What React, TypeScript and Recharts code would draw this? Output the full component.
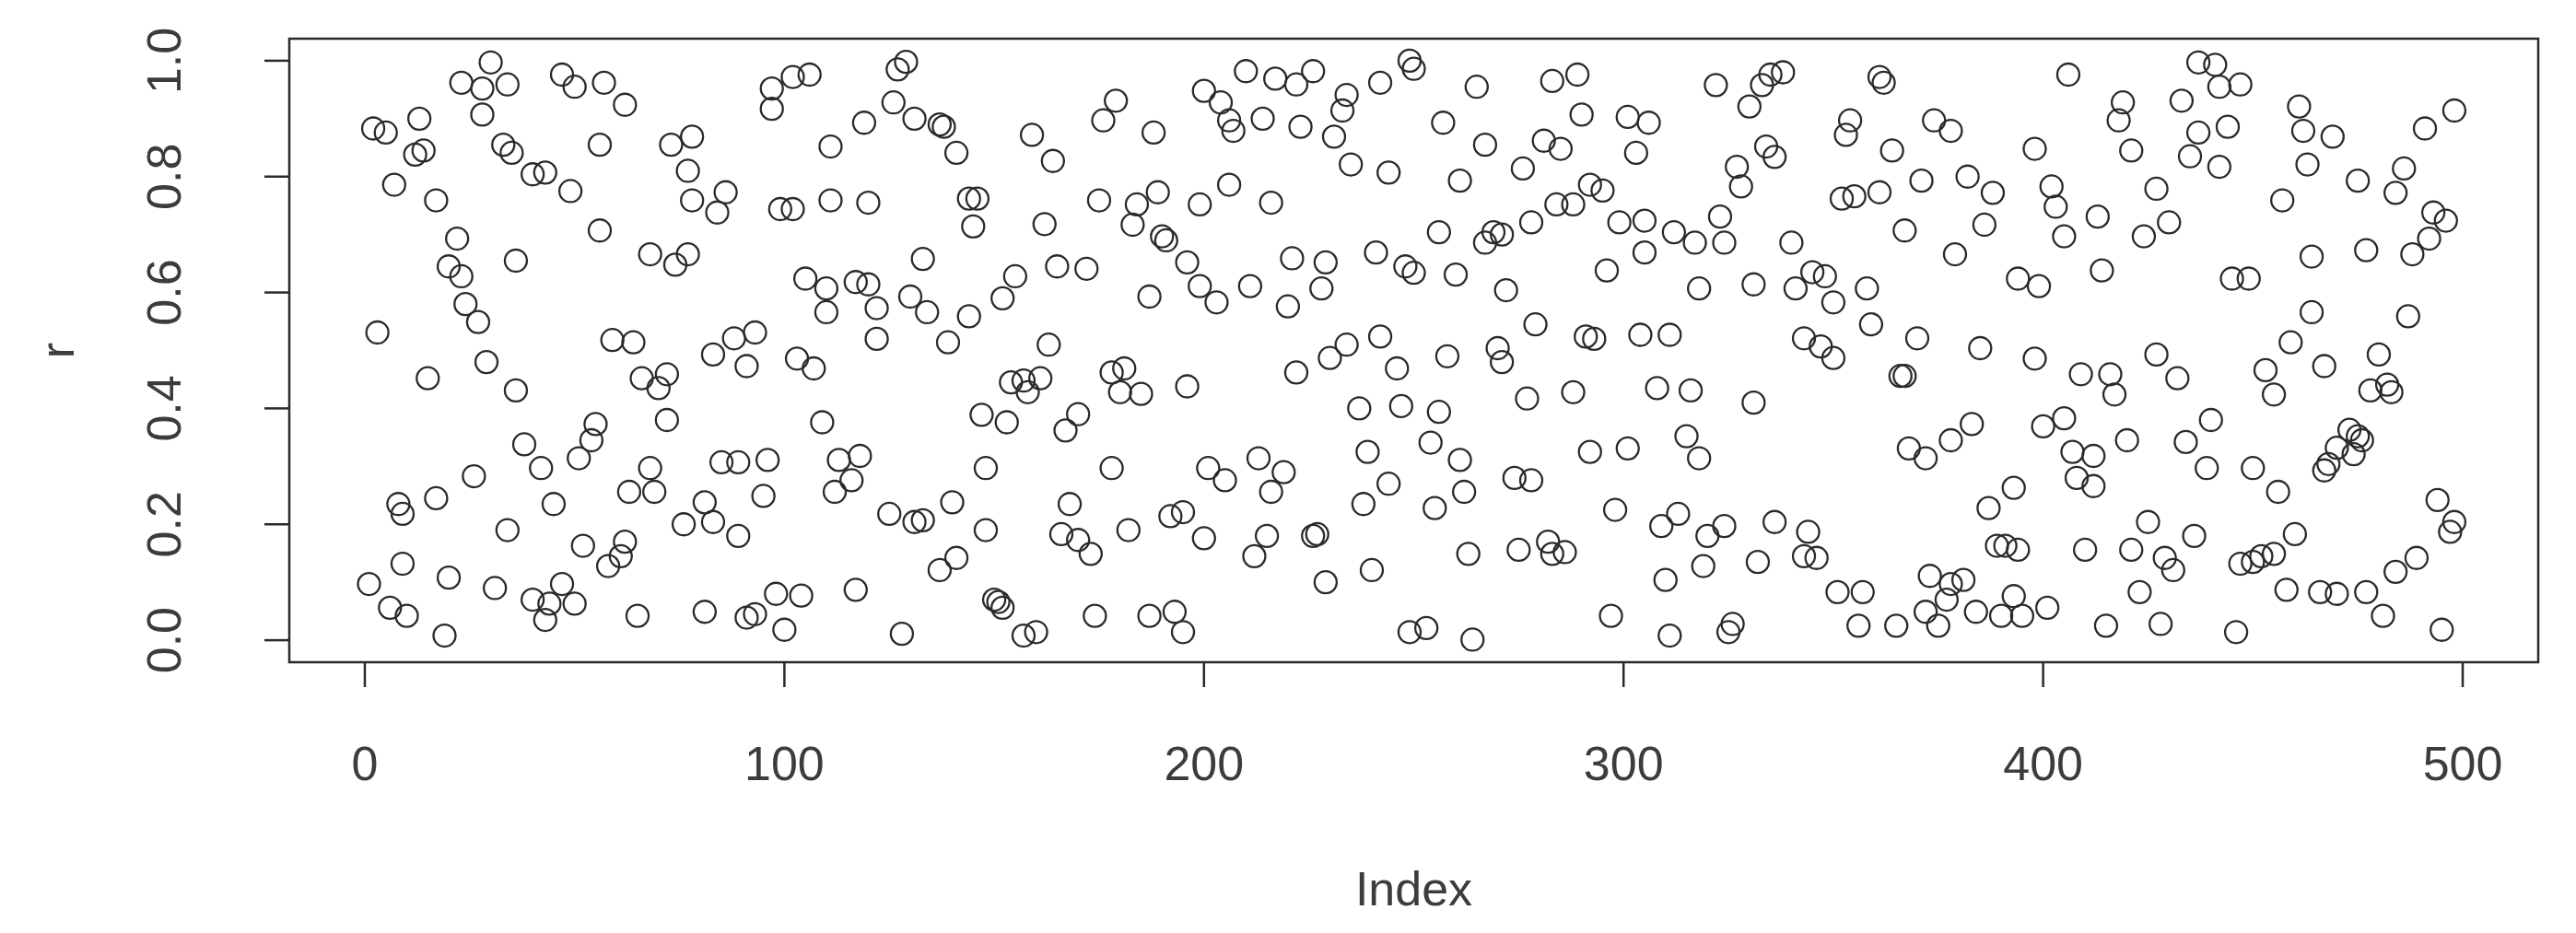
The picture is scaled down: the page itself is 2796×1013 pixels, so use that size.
import React from "react";
import { ScatterChart, Scatter, XAxis, YAxis, ReferenceArea } from "recharts";

// Index positions
const indexValues: number[] = [
  1, 2, 3, 5, 6, 7, 8, 9, 9, 10, 12, 13, 14, 15, 17, 17, 19, 20, 20, 22, 23, 23, 24, 26, 27, 28, 28, 29, 30, 31, 33, 34, 34, 35, 36, 36, 38,
  40, 40, 42, 43, 43, 44, 45, 47, 47, 49, 50, 50, 51, 52, 54, 55, 56, 56, 57, 58, 59, 61, 62, 62, 63, 64, 65, 66, 68, 68, 69, 70, 72, 72, 73, 74, 76, 77, 77, 78, 78,
  81, 81, 83, 83, 85, 84, 86, 88, 89, 89, 91, 91, 93, 93, 95, 96, 97, 97, 98, 99, 100, 102, 102, 103, 104, 105, 106, 107, 109, 110, 110, 111, 111, 112, 113, 116, 117, 117, 118, 119, 120, 120, 122, 122,
  125, 126, 127, 129, 128, 130, 131, 131, 133, 133, 134, 137, 137, 138, 139, 140, 141, 141, 144, 144, 145, 146, 147, 148, 148, 150, 151, 152, 152, 153, 154, 155, 157, 157, 158, 159, 160, 161, 162, 163, 164, 165,
  167, 168, 166, 170, 170, 172, 173, 174, 175, 176, 178, 178, 179, 180, 181, 182, 183, 184, 185, 187, 187, 188, 189, 190, 191, 192, 193, 195, 195, 196, 196, 199, 199, 200, 200, 201, 203, 204, 205, 206, 206, 207,
  210, 211, 212, 213, 214, 215, 216, 216, 217, 219, 220, 221, 222, 222, 223, 226, 226, 227, 228, 229, 229, 230, 231, 233, 234, 234, 235, 237, 238, 239, 240, 241, 242, 242, 244, 244, 246, 247, 248, 249, 249, 250, 250,
  253, 254, 255, 256, 256, 257, 258, 260, 261, 261, 262, 263, 264, 265, 267, 267, 269, 270, 271, 271, 272, 274, 275, 276, 277, 278, 278, 279, 281, 282, 283, 283, 284, 285, 286, 288, 288, 289, 290, 291, 292, 292, 293,
  295, 296, 297, 298, 299, 301, 301, 303, 304, 305, 305, 306, 308, 309, 310, 311, 311, 312, 313, 315, 316, 317, 318, 318, 319, 320, 322, 323, 324, 324, 325, 326, 327, 328, 330, 331, 331, 332, 333, 334, 335, 336, 336,
  338, 340, 341, 343, 343, 344, 345, 346, 347, 348, 350, 350, 351, 352, 353, 354, 355, 356, 357, 358, 359, 361, 361, 362, 364, 365, 366, 367, 367, 368, 370, 371, 372, 372, 373, 374, 375, 377, 378, 378, 378, 379,
  381, 382, 383, 384, 385, 386, 387, 388, 389, 390, 391, 393, 393, 394, 394, 395, 398, 398, 399, 400, 401, 402, 403, 405, 405, 406, 407, 408, 409, 410, 412, 412, 413, 414, 415, 416, 417, 418, 419, 420, 421, 421, 423,
  424, 425, 427, 427, 428, 429, 430, 431, 432, 433, 434, 435, 436, 437, 437, 439, 440, 441, 442, 442, 444, 445, 446, 447, 447, 449, 450, 450, 452, 453, 455, 455, 456, 457, 458, 459, 460, 461, 462, 463, 464, 464,
  466, 467, 467, 468, 469, 470, 470, 473, 474, 475, 475, 476, 477, 477, 478, 480, 481, 482, 483, 484, 484, 486, 487, 488, 489, 491, 492, 493, 494, 495, 496, 497, 498, 498,
];

// r values (same order as indexValues)
const rValues: number[] = [
  0.097, 0.883, 0.531, 0.876, 0.056, 0.786, 0.235, 0.218, 0.132, 0.042, 0.838, 0.9, 0.845, 0.452, 0.759, 0.245, 0.008, 0.108, 0.645, 0.693, 0.962, 0.628, 0.58, 0.283, 0.549, 0.952, 0.907, 0.48, 0.997, 0.09, 0.855, 0.959, 0.19, 0.841, 0.655, 0.431, 0.338,
  0.804, 0.07, 0.297, 0.807, 0.035, 0.063, 0.235, 0.976, 0.097, 0.775, 0.063, 0.955, 0.314, 0.163, 0.345, 0.373, 0.855, 0.707, 0.962, 0.128, 0.518, 0.145, 0.924, 0.17, 0.256, 0.514, 0.042, 0.452, 0.666, 0.297, 0.256, 0.435, 0.459, 0.38, 0.855, 0.648, 0.2, 0.666, 0.81, 0.869, 0.759,
  0.238, 0.049, 0.204, 0.493, 0.307, 0.738, 0.773, 0.521, 0.18, 0.307, 0.473, 0.039, 0.045, 0.531, 0.249, 0.311, 0.952, 0.917, 0.08, 0.744, 0.018, 0.744, 0.972, 0.486, 0.077, 0.624, 0.976, 0.469, 0.376, 0.607, 0.566, 0.852, 0.759, 0.256, 0.311, 0.276, 0.618, 0.087, 0.318, 0.893, 0.614, 0.755, 0.573, 0.52,
  0.218, 0.928, 0.985, 0.998, 0.011, 0.593, 0.9, 0.204, 0.207, 0.658, 0.566, 0.89, 0.121, 0.886, 0.514, 0.238, 0.841, 0.142, 0.762, 0.559, 0.714, 0.762, 0.389, 0.297, 0.19, 0.07, 0.066, 0.056, 0.59, 0.376, 0.445, 0.628, 0.448, 0.008, 0.428, 0.872, 0.014, 0.452, 0.718, 0.51, 0.827, 0.645,
  0.362, 0.235, 0.183, 0.39, 0.173, 0.641, 0.149, 0.042, 0.759, 0.897, 0.462, 0.297, 0.931, 0.428, 0.469, 0.19, 0.717, 0.752, 0.425, 0.593, 0.042, 0.876, 0.773, 0.697, 0.69, 0.214, 0.049, 0.221, 0.014, 0.652, 0.438, 0.752, 0.611, 0.948, 0.176, 0.297, 0.583, 0.928, 0.276, 0.786, 0.897, 0.879,
  0.982, 0.611, 0.145, 0.314, 0.9, 0.18, 0.755, 0.256, 0.969, 0.29, 0.576, 0.659, 0.462, 0.959, 0.886, 0.18, 0.982, 0.183, 0.607, 0.652, 0.1, 0.487, 0.869, 0.914, 0.941, 0.51, 0.821, 0.4, 0.235, 0.325, 0.121, 0.669, 0.524, 0.962, 0.807, 0.27, 0.469, 0.404, 0.645, 0.014, 1.0, 0.986, 0.634,
  0.021, 0.341, 0.228, 0.704, 0.394, 0.893, 0.49, 0.631, 0.793, 0.311, 0.256, 0.149, 0.001, 0.955, 0.855, 0.686, 0.704, 0.504, 0.7, 0.48, 0.604, 0.28, 0.156, 0.814, 0.417, 0.276, 0.721, 0.545, 0.862, 0.17, 0.965, 0.149, 0.752, 0.848, 0.152, 0.752, 0.428, 0.976, 0.907, 0.524, 0.786, 0.325, 0.52,
  0.776, 0.638, 0.042, 0.225, 0.721, 0.903, 0.331, 0.841, 0.527, 0.669, 0.724, 0.893, 0.435, 0.197, 0.104, 0.008, 0.527, 0.704, 0.218, 0.352, 0.431, 0.686, 0.314, 0.607, 0.128, 0.18, 0.958, 0.731, 0.197, 0.686, 0.014, 0.028, 0.817, 0.783, 0.921, 0.614, 0.41, 0.135, 0.958, 0.852, 0.976, 0.204, 0.834,
  0.98, 0.686, 0.607, 0.521, 0.145, 0.187, 0.635, 0.142, 0.507, 0.628, 0.487, 0.583, 0.083, 0.762, 0.872, 0.897, 0.766, 0.025, 0.083, 0.607, 0.545, 0.972, 0.773, 0.962, 0.845, 0.025, 0.456, 0.456, 0.707, 0.331, 0.521, 0.793, 0.314, 0.049, 0.111, 0.897, 0.025, 0.07, 0.097, 0.879, 0.345, 0.666,
  0.104, 0.8, 0.373, 0.049, 0.504, 0.717, 0.228, 0.772, 0.163, 0.042, 0.163, 0.263, 0.076, 0.156, 0.624, 0.042, 0.848, 0.486, 0.611, 0.369, 0.056, 0.783, 0.748, 0.383, 0.697, 0.976, 0.325, 0.28, 0.459, 0.156, 0.318, 0.266, 0.731, 0.638, 0.025, 0.459, 0.424, 0.897, 0.928, 0.345, 0.845, 0.156, 0.083,
  0.697, 0.204, 0.779, 0.493, 0.028, 0.142, 0.721, 0.121, 0.452, 0.931, 0.342, 0.835, 0.18, 0.997, 0.876, 0.297, 0.38, 0.993, 0.955, 0.817, 0.886, 0.624, 0.014, 0.959, 0.132, 0.624, 0.297, 0.135, 0.145, 0.466, 0.149, 0.424, 0.256, 0.759, 0.087, 0.514, 0.183, 0.921, 0.879, 0.821, 0.662, 0.566,
  0.083, 0.473, 0.293, 0.304, 0.869, 0.332, 0.08, 0.363, 0.321, 0.352, 0.793, 0.345, 0.673, 0.083, 0.431, 0.493, 0.042, 0.441, 0.428, 0.772, 0.118, 0.814, 0.559, 0.666, 0.142, 0.883, 0.693, 0.738, 0.242, 0.018, 0.724, 0.187, 0.914, 0.204,
];

const xTicks: number[] = [0, 100, 200, 300, 400, 500];
const yTicks: number[] = [0, 0.2, 0.4, 0.6, 0.8, 1.0];
const xLabel = "Index";
const yLabel = "r";

const data = indexValues.map((x, i) => ({ x, r: rValues[i] }));

const FONT = "'Liberation Sans', Arial, sans-serif";
const FS = 52;
const TXT = "#3c3c3c";
const INK = "#2a2a2a";

const XTick = (props: any) => {
  const { x, y, payload } = props;
  return (
    <text x={x} y={y + 83} textAnchor="middle" dominantBaseline="central" fontFamily={FONT} fontSize={FS} fill={TXT}>
      {payload.value}
    </text>
  );
};

const YTick = (props: any) => {
  const { x, y, payload } = props;
  const cx = x - 109;
  return (
    <text
      x={cx}
      y={y}
      transform={`rotate(-90, ${cx}, ${y})`}
      textAnchor="middle"
      dominantBaseline="central"
      fontFamily={FONT}
      fontSize={FS}
      fill={TXT}
    >
      {Number(payload.value).toFixed(1)}
    </text>
  );
};

const Dot = (props: any) => {
  const { cx, cy } = props;
  if (cx == null || cy == null) return null;
  return <circle cx={cx} cy={cy} r={12} fill="none" stroke={INK} strokeWidth={2.3} />;
};

export default function App() {
  const W = 2780;
  const H = 997;
  return (
    <div style={{ width: W, height: H, background: "#fff" }}>
      <ScatterChart width={W} height={H} margin={{ top: 34, right: 33, left: 186, bottom: 166 }}>
        <XAxis
          type="number"
          dataKey="x"
          domain={[-18, 518]}
          ticks={xTicks}
          interval={0}
          axisLine={false}
          tickLine={{ stroke: INK, strokeWidth: 2.5 }}
          tickSize={27}
          tickMargin={0}
          height={120}
          tick={<XTick />}
          label={{
            content: (p: any) => {
              const vb = p.viewBox || {};
              return (
                <text
                  x={(vb.x || 0) + (vb.width || 0) / 2}
                  y={957}
                  textAnchor="middle"
                  dominantBaseline="central"
                  fontFamily={FONT}
                  fontSize={FS}
                  fill={TXT}
                >
                  {xLabel}
                </text>
              );
            },
          }}
        />
        <YAxis
          type="number"
          dataKey="r"
          domain={[-0.038, 1.038]}
          ticks={yTicks}
          interval={0}
          axisLine={false}
          tickLine={{ stroke: INK, strokeWidth: 2.5 }}
          tickSize={27}
          tickMargin={0}
          width={120}
          tick={<YTick />}
          label={{
            content: (p: any) => {
              const vb = p.viewBox || {};
              const cy = (vb.y || 0) + (vb.height || 0) / 2;
              return (
                <text
                  x={54}
                  y={cy}
                  transform={`rotate(-90, 54, ${cy})`}
                  textAnchor="middle"
                  dominantBaseline="central"
                  fontFamily={FONT}
                  fontSize={FS}
                  fill={TXT}
                >
                  {yLabel}
                </text>
              );
            },
          }}
        />
        <ReferenceArea x1={-18} x2={518} y1={-0.038} y2={1.038} fill="none" fillOpacity={0} stroke={INK} strokeWidth={2.5} />
        <Scatter data={data} shape={<Dot />} isAnimationActive={false} />
      </ScatterChart>
    </div>
  );
}
